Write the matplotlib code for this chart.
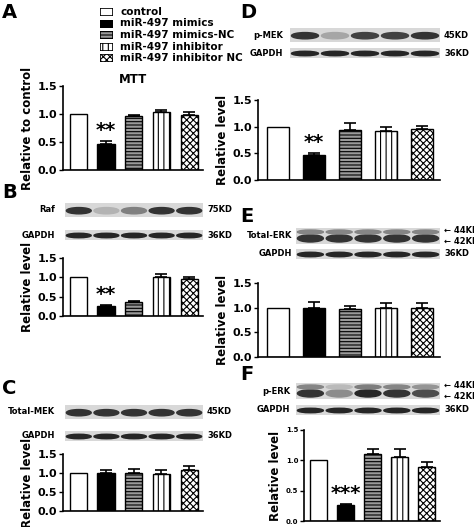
import matplotlib
matplotlib.use("Agg")
import matplotlib.pyplot as plt
from matplotlib.patches import Rectangle, Ellipse

W, H = 474, 527
groups = ["control", "miR-497 mimics", "miR-497 mimics-NC", "miR-497 inhibitor", "miR-497 inhibitor NC"]
vals_A = [1.0, 0.47, 0.96, 1.03, 0.99]; err_A = [0, 0.05, 0.03, 0.04, 0.05]
vals_B = [1.0, 0.25, 0.36, 1.00, 0.96]; err_B = [0, 0.04, 0.04, 0.08, 0.06]
vals_C = [1.0, 1.00, 1.00, 0.98, 1.08]; err_C = [0, 0.08, 0.10, 0.10, 0.10]
vals_D = [1.0, 0.47, 0.93, 0.92, 0.96]; err_D = [0, 0.04, 0.14, 0.08, 0.06]
vals_E = [1.0, 1.00, 0.98, 1.00, 0.99]; err_E = [0, 0.12, 0.06, 0.10, 0.10]
vals_F = [1.0, 0.26, 1.10, 1.06, 0.89]; err_F = [0, 0.02, 0.09, 0.12, 0.09]
faces = ["white", "black", "#9a9a9a", "white", "white"]
hatches = [None, None, "-----", "|||", "xxxxx"]

plt.rcParams['font.family'] = ['DejaVu Sans']
plt.rcParams['hatch.linewidth'] = 0.8
fig = plt.figure(figsize=(W/100, H/100), dpi=100)

def ax_px(x0, y0, x1, y1):
    return fig.add_axes([x0/W, 1-y1/H, (x1-x0)/W, (y1-y0)/H])

def bars(rect, vals, errs, ylabel, star, title=None, small=False):
    ax = ax_px(*rect)
    for i, (v, e) in enumerate(zip(vals, errs)):
        ax.bar(i, v, 0.62, color=faces[i], edgecolor="black", hatch=hatches[i], lw=1)
        if e:
            ax.errorbar(i, v, yerr=[[0], [e]], color="black", capsize=4, lw=1.2, capthick=1.2)
    ax.text(1, vals[1] + errs[1] + 0.02, star, ha="center", va="bottom", fontsize=14, fontweight="bold")
    ax.set_xlim(-0.55, 4.5); ax.set_ylim(0, 1.5)
    ax.set_yticks([0, 0.5, 1.0, 1.5]); ax.set_xticks([])
    ax.tick_params(labelsize=5 if small else 8, length=3, width=1, pad=1)
    for t in ax.get_yticklabels(): t.set_fontweight("bold")
    ax.spines[["top", "right"]].set_visible(False)
    ax.spines[["left", "bottom"]].set_linewidth(1.2)
    ax.set_ylabel(ylabel, fontsize=8.5, fontweight="bold", labelpad=3)
    if title: ax.set_title(title, fontsize=8.5, fontweight="bold", pad=2)
    return ax

def blot(x0, x1, y, h, label, kd, lx, intens, double=False):
    ax = ax_px(x0, y - h/2, x1, y + h/2)
    ax.set_xlim(0, 5); ax.set_ylim(0, 1); ax.axis("off")
    ax.add_patch(Rectangle((0, 0), 5, 1, color="#d8d8d8"))
    for i, a in enumerate(intens):
        ax.add_patch(Ellipse((i+0.5, 0.45 if not double else 0.35), 0.9, 0.45, color=str(1-a)))
        if double:
            ax.add_patch(Ellipse((i+0.5, 0.75), 0.9, 0.25, color=str(1-a*0.6)))
    fig.text(lx/W, 1-y/H, label, fontsize=6, fontweight="bold", ha="right", va="center")
    fig.text((x1+4)/W, 1-y/H, kd, fontsize=6, fontweight="bold", ha="left", va="center")

lx, ly = 100, 12
for i, g in enumerate(groups):
    yy = ly + i*11.5
    ax = ax_px(lx, yy-4, lx+13, yy+4); ax.axis("off")
    ax.add_patch(Rectangle((0, 0), 1, 1, facecolor=faces[i], edgecolor="black", hatch=hatches[i], lw=1.2, transform=ax.transAxes))
    fig.text((lx+20)/W, 1-yy/H, g, fontsize=7.5, fontweight="bold", va="center")

for lab, x, y in [("A", 2, 12), ("B", 2, 193), ("C", 2, 388), ("D", 240, 12), ("E", 240, 217), ("F", 240, 374)]:
    fig.text(x/W, 1-y/H, lab, fontsize=14, fontweight="bold", va="center")

bars((63, 86, 203, 170), vals_A, err_A, "Relative to control", "**", title="MTT")
bars((63, 258, 203, 316), vals_B, err_B, "Relative level", "**")
bars((63, 454, 203, 511), vals_C, err_C, "Relative level", "")
bars((258, 100, 440, 180), vals_D, err_D, "Relative level", "**")
bars((258, 283, 440, 357), vals_E, err_E, "Relative level", "")
bars((304, 430, 440, 521), vals_F, err_F, "Relative level", "***", small=True)

blot(65, 203, 210, 14, "Raf", "75KD", 55, [0.8, 0.3, 0.5, 0.8, 0.8])
blot(65, 203, 235, 10, "GAPDH", "36KD", 55, [0.85]*5)
blot(65, 203, 412, 14, "Total-MEK", "45KD", 55, [0.8]*5)
blot(65, 203, 436, 10, "GAPDH", "36KD", 55, [0.85]*5)
blot(290, 440, 35, 14, "p-MEK", "45KD", 283, [0.8, 0.35, 0.75, 0.75, 0.8])
blot(290, 440, 53, 10, "GAPDH", "36KD", 283, [0.85]*5)
blot(296, 440, 236, 16, "Total-ERK", "← 44KD\n← 42KD", 292, [0.8]*5, double=True)
blot(296, 440, 254, 10, "GAPDH", "36KD", 292, [0.85]*5)
blot(296, 440, 391, 16, "p-ERK", "← 44KD\n← 42KD", 290, [0.8, 0.45, 0.85, 0.8, 0.7], double=True)
blot(296, 440, 410, 10, "GAPDH", "36KD", 290, [0.85]*5)

fig.savefig("out.png", dpi=100)
